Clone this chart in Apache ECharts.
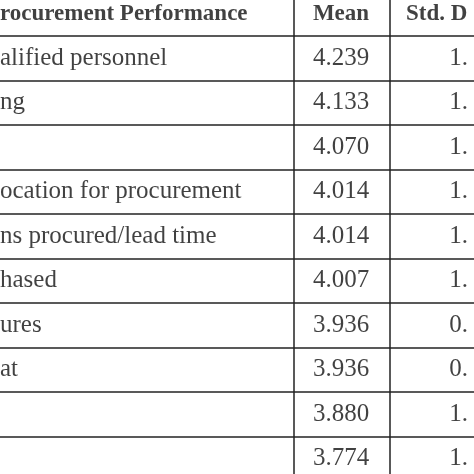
<!DOCTYPE html>
<html>
<head>
<meta charset="utf-8">
<script src="https://cdn.jsdelivr.net/npm/echarts@6/dist/echarts.min.js"></script>
<style>html,body{margin:0;padding:0;background:#fff}#c{width:474px;height:474px}</style>
</head>
<body>
<div id="c"></div>
<script>
const header = ['rocurement Performance', 'Mean', 'Std. D'];
const items = ['alified personnel', 'ng', '', 'ocation for procurement', 'ns procured/lead time',
  'hased', 'ures', 'at', '', ''];
const means = ['4.239', '4.133', '4.070', '4.014', '4.014', '4.007', '3.936', '3.936', '3.880', '3.774'];
const stds = ['1.', '1.', '1.', '1.', '1.', '1.', '0.', '0.', '1.', '1.'];

const font = 'Liberation Serif';

function cells(texts, x, align, bold) {
  return texts.map((t, i) => ({
    value: [x, bold ? 0 : i + 1],
    label: { formatter: t, align: align, fontWeight: bold ? 'bold' : 'normal',
      fontSize: bold ? 23 : 25, fontFamily: font }
  }));
}

const data = []
  .concat(cells([header[0]], 0, 'left', true))
  .concat(cells([header[1]], 341, 'center', true))
  .concat(cells([header[2]], 406, 'left', true))
  .concat(cells(items, 0, 'left', false))
  .concat(cells(means, 341, 'center', false))
  .concat(cells(stds, 468, 'right', false));

// row boundaries between header and each data row
const hLines = items.map((_, i) => ({ yAxis: i + 0.5 }));

const chart = echarts.init(document.getElementById('c'));
chart.setOption({
  animation: false,
  grid: { left: 0, right: 0, top: 0, bottom: 0 },
  xAxis: { type: 'value', min: 0, max: 474, show: false },
  yAxis: { type: 'value', inverse: true, min: -0.309, max: 10.343, show: false, splitLine: { show: false } },
  series: [{
    type: 'scatter',
    symbolSize: 0,
    data: data,
    label: { show: true, position: 'inside', color: '#111', fontFamily: font, fontSize: 25 },
    markLine: {
      symbol: 'none', silent: true, label: { show: false },
      lineStyle: { color: '#222', width: 1.5, type: 'solid' },
      data: [{ xAxis: 294 }, { xAxis: 390 }].concat(hLines)
    }
  }]
});
</script>
</body>
</html>
